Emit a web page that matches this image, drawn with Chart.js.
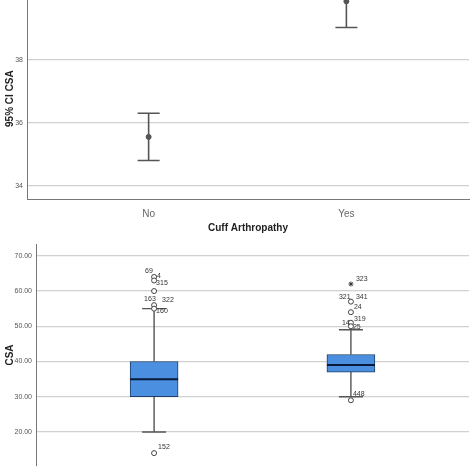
<!DOCTYPE html>
<html><head><meta charset="utf-8">
<script src="https://cdn.jsdelivr.net/npm/chart.js@4"></script>
<style>
body{margin:0;background:#fff;width:474px;height:474px;overflow:hidden;font-family:Arial,"Liberation Sans",sans-serif}
#c1{position:absolute;left:0;top:-10px}
#c2{position:absolute;left:0;top:236px}
</style></head><body>
<canvas id="c1" width="474" height="246"></canvas>
<canvas id="c2" width="474" height="238"></canvas>
<script>
const groups = ['No','Yes'];
// Top panel: mean and 95% CI
const ciMean = [35.55, 39.85];
const ciLow = [34.8, 39.02];
const ciHigh = [36.3, 40.7];
// Bottom panel: box plot
const q1 = [30, 37];
const median = [35, 39];
const q3 = [40, 42];
const whiskLow = [20, 30];
const whiskHigh = [55, 49];
const outNo = [64, 63, 60, 56, 55, 14];
const outYes = [57, 54, 51, 50, 29];
const extremeYes = [62];

Chart.defaults.animation = false;
Chart.defaults.font.family = 'Arial, "Liberation Sans", sans-serif';

const errPlugin = {
  id:'err',
  afterDatasetsDraw(chart){
    const {ctx, scales:{x,y}} = chart;
    ctx.save();
    ctx.strokeStyle='#555'; ctx.lineWidth=1.6;
    groups.forEach((g,i)=>{
      const px = x.getPixelForValue(i);
      const a=y.getPixelForValue(ciLow[i]), b=y.getPixelForValue(ciHigh[i]);
      ctx.beginPath();
      ctx.moveTo(px,a);ctx.lineTo(px,b);
      ctx.moveTo(px-11,a);ctx.lineTo(px+11,a);
      ctx.moveTo(px-11,b);ctx.lineTo(px+11,b);
      ctx.stroke();
    });
    ctx.restore();
  }
};

new Chart(document.getElementById('c1'),{
  type:'scatter',
  data:{datasets:[{data:ciMean.map((v,i)=>({x:i,y:v})),pointRadius:2.5,pointBackgroundColor:'#555',pointBorderColor:'#555'}]},
  options:{responsive:false,layout:{padding:{top:0,right:0,bottom:2,left:0}},
    plugins:{legend:{display:false},tooltip:{enabled:false}},
    scales:{
      x:{type:'linear',offset:false,min:-0.615,max:1.62,grid:{display:false},border:{color:'#777',width:1},
        afterBuildTicks(s){s.ticks=[0,1].map(v=>({value:v}));},
        ticks:{color:'#666',font:{size:10},padding:1,callback:v=>groups[v]},
        title:{display:true,text:'Cuff Arthropathy',color:'#222',font:{size:10,weight:'bold'},padding:{top:1,bottom:0}}},
      y:{min:33.58,max:39.95,afterFit(s){s.width=27;},
        afterBuildTicks(s){s.ticks=[34,36,38].map(v=>({value:v}));},
        grid:{color:'#d0d0d0',lineWidth:1.2,drawTicks:false},border:{color:'#777',width:1},
        ticks:{color:'#555',font:{size:7},padding:4},
        title:{display:true,text:'95% CI CSA',color:'#222',font:{size:10,weight:'bold'},padding:{bottom:2}}}
    }},
  plugins:[errPlugin]
});

const boxPlugin = {
  id:'box',
  beforeDatasetsDraw(chart){
    const {ctx, scales:{x,y}} = chart;
    ctx.save(); ctx.strokeStyle='#555'; ctx.lineWidth=1.4;
    groups.forEach((g,i)=>{
      const px=x.getPixelForValue(i);
      ctx.beginPath();
      ctx.moveTo(px,y.getPixelForValue(whiskLow[i]));ctx.lineTo(px,y.getPixelForValue(q1[i]));
      ctx.moveTo(px,y.getPixelForValue(q3[i]));ctx.lineTo(px,y.getPixelForValue(whiskHigh[i]));
      [whiskLow[i],whiskHigh[i]].forEach(v=>{const py=y.getPixelForValue(v);ctx.moveTo(px-12,py);ctx.lineTo(px+12,py);});
      ctx.stroke();
    });
    ctx.restore();
  },
  afterDatasetsDraw(chart){
    const {ctx, scales:{x,y}} = chart;
    ctx.save();
    ctx.strokeStyle='#0a1a3a'; ctx.lineWidth=2;
    groups.forEach((g,i)=>{
      const px=x.getPixelForValue(i), py=y.getPixelForValue(median[i]);
      ctx.beginPath();ctx.moveTo(px-24,py);ctx.lineTo(px+24,py);ctx.stroke();
    });
    ctx.fillStyle='#333'; ctx.font='7px Arial, "Liberation Sans", sans-serif';
    const lab=(i,v,t,dx,dy)=>ctx.fillText(t,x.getPixelForValue(i)+dx,y.getPixelForValue(v)+dy);
    lab(0,64,'69',-9,-4); lab(0,64,'4',3,1); lab(0,63,'315',2,5);
    lab(0,56,'163',-10,-4); lab(0,56,'322',8,-3); lab(0,55,'160',2,4); lab(0,14,'152',4,-4);
    lab(1,62,'323',5,-3); lab(1,57,'321',-12,-3); lab(1,57,'341',5,-3); lab(1,54,'24',3,-3);
    lab(1,51,'319',3,-2); lab(1,50,'14',-9,-1); lab(1,50,'25',2,3); lab(1,29,'448',2,-4);
    ctx.restore();
  }
};

const pt = {showLine:false,pointRadius:2.5,pointBackgroundColor:'#fff',pointBorderColor:'#444',pointBorderWidth:1};
new Chart(document.getElementById('c2'),{
  data:{datasets:[
    {type:'bar',data:groups.map((g,i)=>({x:i,y:[q1[i],q3[i]]})),backgroundColor:'#4a8fe0',borderColor:'#1d3d66',borderWidth:1,borderSkipped:false,barThickness:48},
    Object.assign({type:'scatter',data:outNo.map(v=>({x:0,y:v}))},pt),
    Object.assign({type:'scatter',data:outYes.map(v=>({x:1,y:v}))},pt),
    {type:'scatter',data:extremeYes.map(v=>({x:1,y:v})),pointStyle:'star',pointRadius:2.5,pointBorderColor:'#333',pointBorderWidth:1}
  ]},
  options:{responsive:false,layout:{padding:{top:8,right:0,bottom:0,left:0}},
    plugins:{legend:{display:false},tooltip:{enabled:false}},
    scales:{
      x:{type:'linear',offset:false,min:-0.6,max:1.6,display:false},
      y:{min:10.4,max:73.3,afterFit(s){s.width=36;},
        afterBuildTicks(s){s.ticks=[20,30,40,50,60,70].map(v=>({value:v}));},
        grid:{color:'#d0d0d0',lineWidth:1.2,drawTicks:false},border:{color:'#777',width:1},
        ticks:{color:'#555',font:{size:7},padding:4,callback:v=>v.toFixed(2)},
        title:{display:true,text:'CSA',color:'#222',font:{size:10,weight:'bold'},padding:{bottom:0}}}
    }},
  plugins:[boxPlugin]
});
</script></body></html>
